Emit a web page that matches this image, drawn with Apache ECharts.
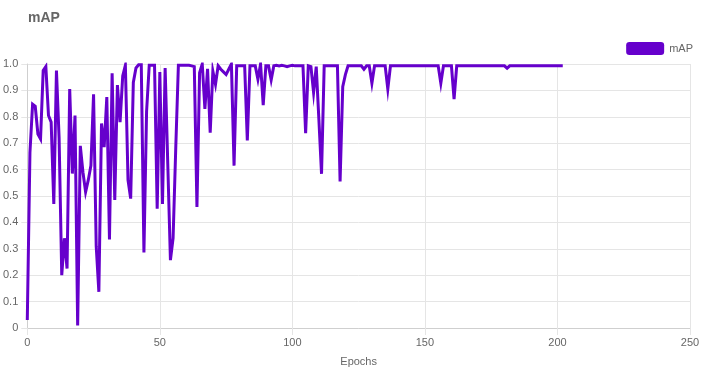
<!DOCTYPE html>
<html>
<head>
<meta charset="utf-8">
<script src="https://cdn.jsdelivr.net/npm/echarts@6/dist/echarts.min.js"></script>
<style>
html,body{margin:0;padding:0;background:#fff;}
#chart{width:703px;height:374px;}
</style>
</head>
<body>
<div id="chart"></div>
<script>
const chartTitle = 'mAP';
const seriesName = 'mAP';
const xAxisName = 'Epochs';
const xTicks = [0, 50, 100, 150, 200, 250];
const yTicks = [0, 0.1, 0.2, 0.3, 0.4, 0.5, 0.6, 0.7, 0.8, 0.9, 1.0];
const mapValues = [
  0.03, 0.665, 0.848, 0.84, 0.735, 0.716, 0.975, 0.99, 0.805, 0.78,
  0.47, 0.975, 0.72, 0.2, 0.34, 0.225, 0.905, 0.585, 0.805, 0.01,
  0.69, 0.59, 0.515, 0.56, 0.615, 0.885, 0.31, 0.137, 0.775, 0.685,
  0.875, 0.335, 0.965, 0.485, 0.92, 0.78, 0.955, 0.995, 0.56, 0.49,
  0.93, 0.985, 0.997, 0.997, 0.286, 0.82, 0.995, 0.995, 0.995, 0.452,
  0.97, 0.47, 0.985, 0.62, 0.257, 0.34, 0.68, 0.995, 0.995, 0.995,
  0.995, 0.995, 0.993, 0.99, 0.458, 0.967, 1.0, 0.83, 0.982, 0.74,
  0.973, 0.923, 0.993, 0.98, 0.97, 0.96, 0.98, 1.0, 0.615, 0.993,
  0.993, 0.993, 0.993, 0.71, 0.993, 0.993, 0.993, 0.942, 1.0, 0.844,
  0.993, 0.993, 0.94, 0.993, 0.995, 0.993, 0.995, 0.993, 0.99, 0.993,
  0.995, 0.993, 0.993, 0.993, 0.993, 0.738, 0.993, 0.99, 0.892, 0.99,
  0.79, 0.584, 0.993, 0.993, 0.993, 0.993, 0.993, 0.993, 0.555, 0.914,
  0.96, 0.993, 0.993, 0.993, 0.993, 0.993, 0.993, 0.98, 0.993, 0.993,
  0.927, 0.993, 0.993, 0.993, 0.993, 0.993, 0.905, 0.993, 0.993, 0.993,
  0.993, 0.993, 0.993, 0.993, 0.993, 0.993, 0.993, 0.993, 0.993, 0.993,
  0.993, 0.993, 0.993, 0.993, 0.993, 0.993, 0.927, 0.993, 0.993, 0.993,
  0.993, 0.867, 0.993, 0.993, 0.993, 0.993, 0.993, 0.993, 0.993, 0.993,
  0.993, 0.993, 0.993, 0.993, 0.993, 0.993, 0.993, 0.993, 0.993, 0.993,
  0.993, 0.984, 0.993, 0.993, 0.993, 0.993, 0.993, 0.993, 0.993, 0.993,
  0.993, 0.993, 0.993, 0.993, 0.993, 0.993, 0.993, 0.993, 0.993, 0.993,
  0.993, 0.993, 0.993
];

const lineColor = '#6600cc';
const textColor = '#666';
const fontFamily = '"Liberation Sans", Arial, Helvetica, sans-serif';

const chart = echarts.init(document.getElementById('chart'), null, {renderer: 'canvas'});
chart.setOption({
  animation: false,
  textStyle: {fontFamily: fontFamily},
  title: {
    text: chartTitle,
    left: 23,
    top: 6,
    textStyle: {fontSize: 14, fontWeight: 'bold', color: textColor, fontFamily: fontFamily}
  },
  legend: {
    right: 5,
    top: 37,
    icon: 'roundRect',
    itemWidth: 38,
    itemHeight: 13,
    itemGap: 5,
    textStyle: {fontSize: 11, color: textColor, fontFamily: fontFamily},
    data: [{name: seriesName, itemStyle: {color: lineColor}}]
  },
  grid: {left: 27, right: 13, top: 64, bottom: 46, containLabel: false},
  xAxis: {
    type: 'value',
    min: xTicks[0],
    max: xTicks[xTicks.length - 1],
    interval: 50,
    name: xAxisName,
    nameLocation: 'middle',
    nameGap: 28,
    nameTextStyle: {fontSize: 11, color: textColor, fontFamily: fontFamily},
    axisLine: {show: true, lineStyle: {color: '#cfcfcf', width: 1}},
    axisTick: {show: true, length: 7, lineStyle: {color: '#e5e5e5'}},
    axisLabel: {fontSize: 11, color: textColor, margin: 9, fontFamily: fontFamily},
    splitLine: {show: true, lineStyle: {color: '#e5e5e5', width: 1}}
  },
  yAxis: {
    type: 'value',
    min: yTicks[0],
    max: yTicks[yTicks.length - 1],
    interval: 0.1,
    axisLine: {show: true, lineStyle: {color: '#cfcfcf', width: 1}},
    axisTick: {show: true, length: 6, lineStyle: {color: '#e5e5e5'}},
    axisLabel: {
      fontSize: 11, color: textColor, margin: 9, fontFamily: fontFamily,
      formatter: function (v) { return v === 0 ? '0' : v.toFixed(1); }
    },
    splitLine: {show: true, lineStyle: {color: '#e5e5e5', width: 1}}
  },
  series: [{
    name: seriesName,
    type: 'line',
    data: mapValues.map(function (v, i) { return [i, v]; }),
    showSymbol: false,
    symbol: 'none',
    smooth: false,
    lineStyle: {color: lineColor, width: 3, join: 'miter'},
    itemStyle: {color: lineColor}
  }]
});
</script>
</body>
</html>
